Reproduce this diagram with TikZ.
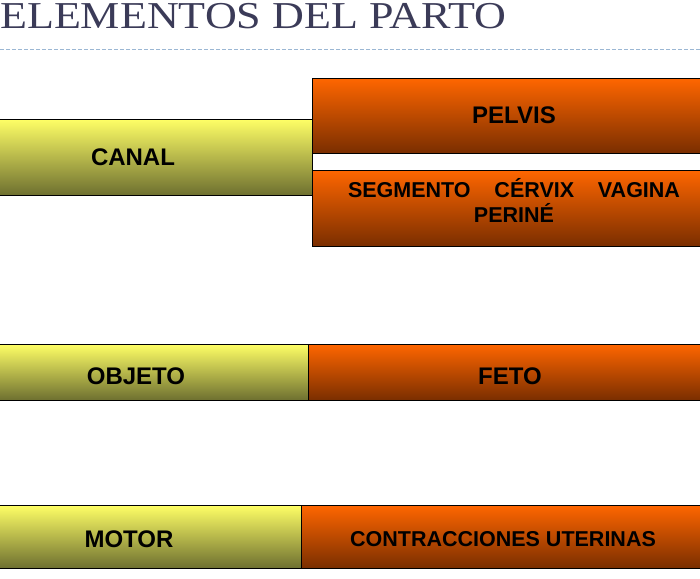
\documentclass[tikz,border=0pt]{standalone}
\usepackage{fontspec}
\setmainfont{Liberation Sans}
\newfontfamily\titlefont[FakeStretch=1.16]{Liberation Serif}
\usepackage{xcolor}
\usepackage{tikz}
\definecolor{ptitle}{RGB}{59, 59, 88}
\definecolor{prule}{RGB}{155, 183, 212}
\definecolor{pyeltop}{RGB}{255, 255, 102}
\definecolor{pyelbot}{RGB}{110, 112, 48}
\definecolor{porgtop}{RGB}{255, 102, 0}
\definecolor{porgbot}{RGB}{122, 46, 0}

\begin{document}
\begin{tikzpicture}[x=1pt, y=1pt,
  yelbox/.style={draw=black, line width=1pt, top color=pyeltop, bottom color=pyelbot,
    inner sep=0pt, font=\bfseries\fontsize{24}{28}\selectfont},
  orgbox/.style={draw=black, line width=1pt, top color=porgtop, bottom color=porgbot,
    inner sep=0pt, font=\bfseries\fontsize{24}{28}\selectfont},
  smalltext/.style={font=\bfseries\fontsize{21.5}{25}\selectfont}]
\useasboundingbox (0,0) rectangle (700,-578);
\clip (0,0) rectangle (700,-578);

% Title
\node[anchor=base west, inner sep=0pt, text=ptitle,
  font=\titlefont\fontsize{38}{42}\selectfont] (title) at (0,-29) {ELEMENTOS DEL PARTO};
\coordinate (rulel) at (0,-50);
\coordinate (ruler) at (700,-50);
\draw[prule, line width=1pt, dash pattern=on 4pt off 2pt] (rulel) -- (ruler);

% Canal
\node[yelbox, minimum width=358pt, minimum height=76pt] (canal) at (133,-157) {CANAL};
\node[orgbox, minimum width=404pt, minimum height=75pt] (pelvis) at (514,-115.5) {PELVIS};
\node[orgbox, smalltext, minimum width=404pt, minimum height=76pt, align=center] (segmento) at (514,-208)
  {\makebox[332pt][s]{SEGMENTO CÉRVIX VAGINA}\\PERINÉ\rule[-16pt]{0pt}{16pt}};

% Objeto
\node[yelbox, minimum width=344pt, minimum height=56pt] (objeto) at (136,-372) {\rule{0pt}{25pt}OBJETO};
\node[orgbox, minimum width=404pt, minimum height=56pt] (feto) at (510,-372) {\rule{0pt}{25pt}FETO};

% Motor
\node[yelbox, minimum width=344pt, minimum height=63pt] (motor) at (129,-536.5) {\rule{0pt}{23pt}MOTOR};
\node[orgbox, smalltext, minimum width=404pt, minimum height=63pt] (contracciones) at (503,-536.5) {\rule{0pt}{19.5pt}CONTRACCIONES UTERINAS};
\end{tikzpicture}
\end{document}
